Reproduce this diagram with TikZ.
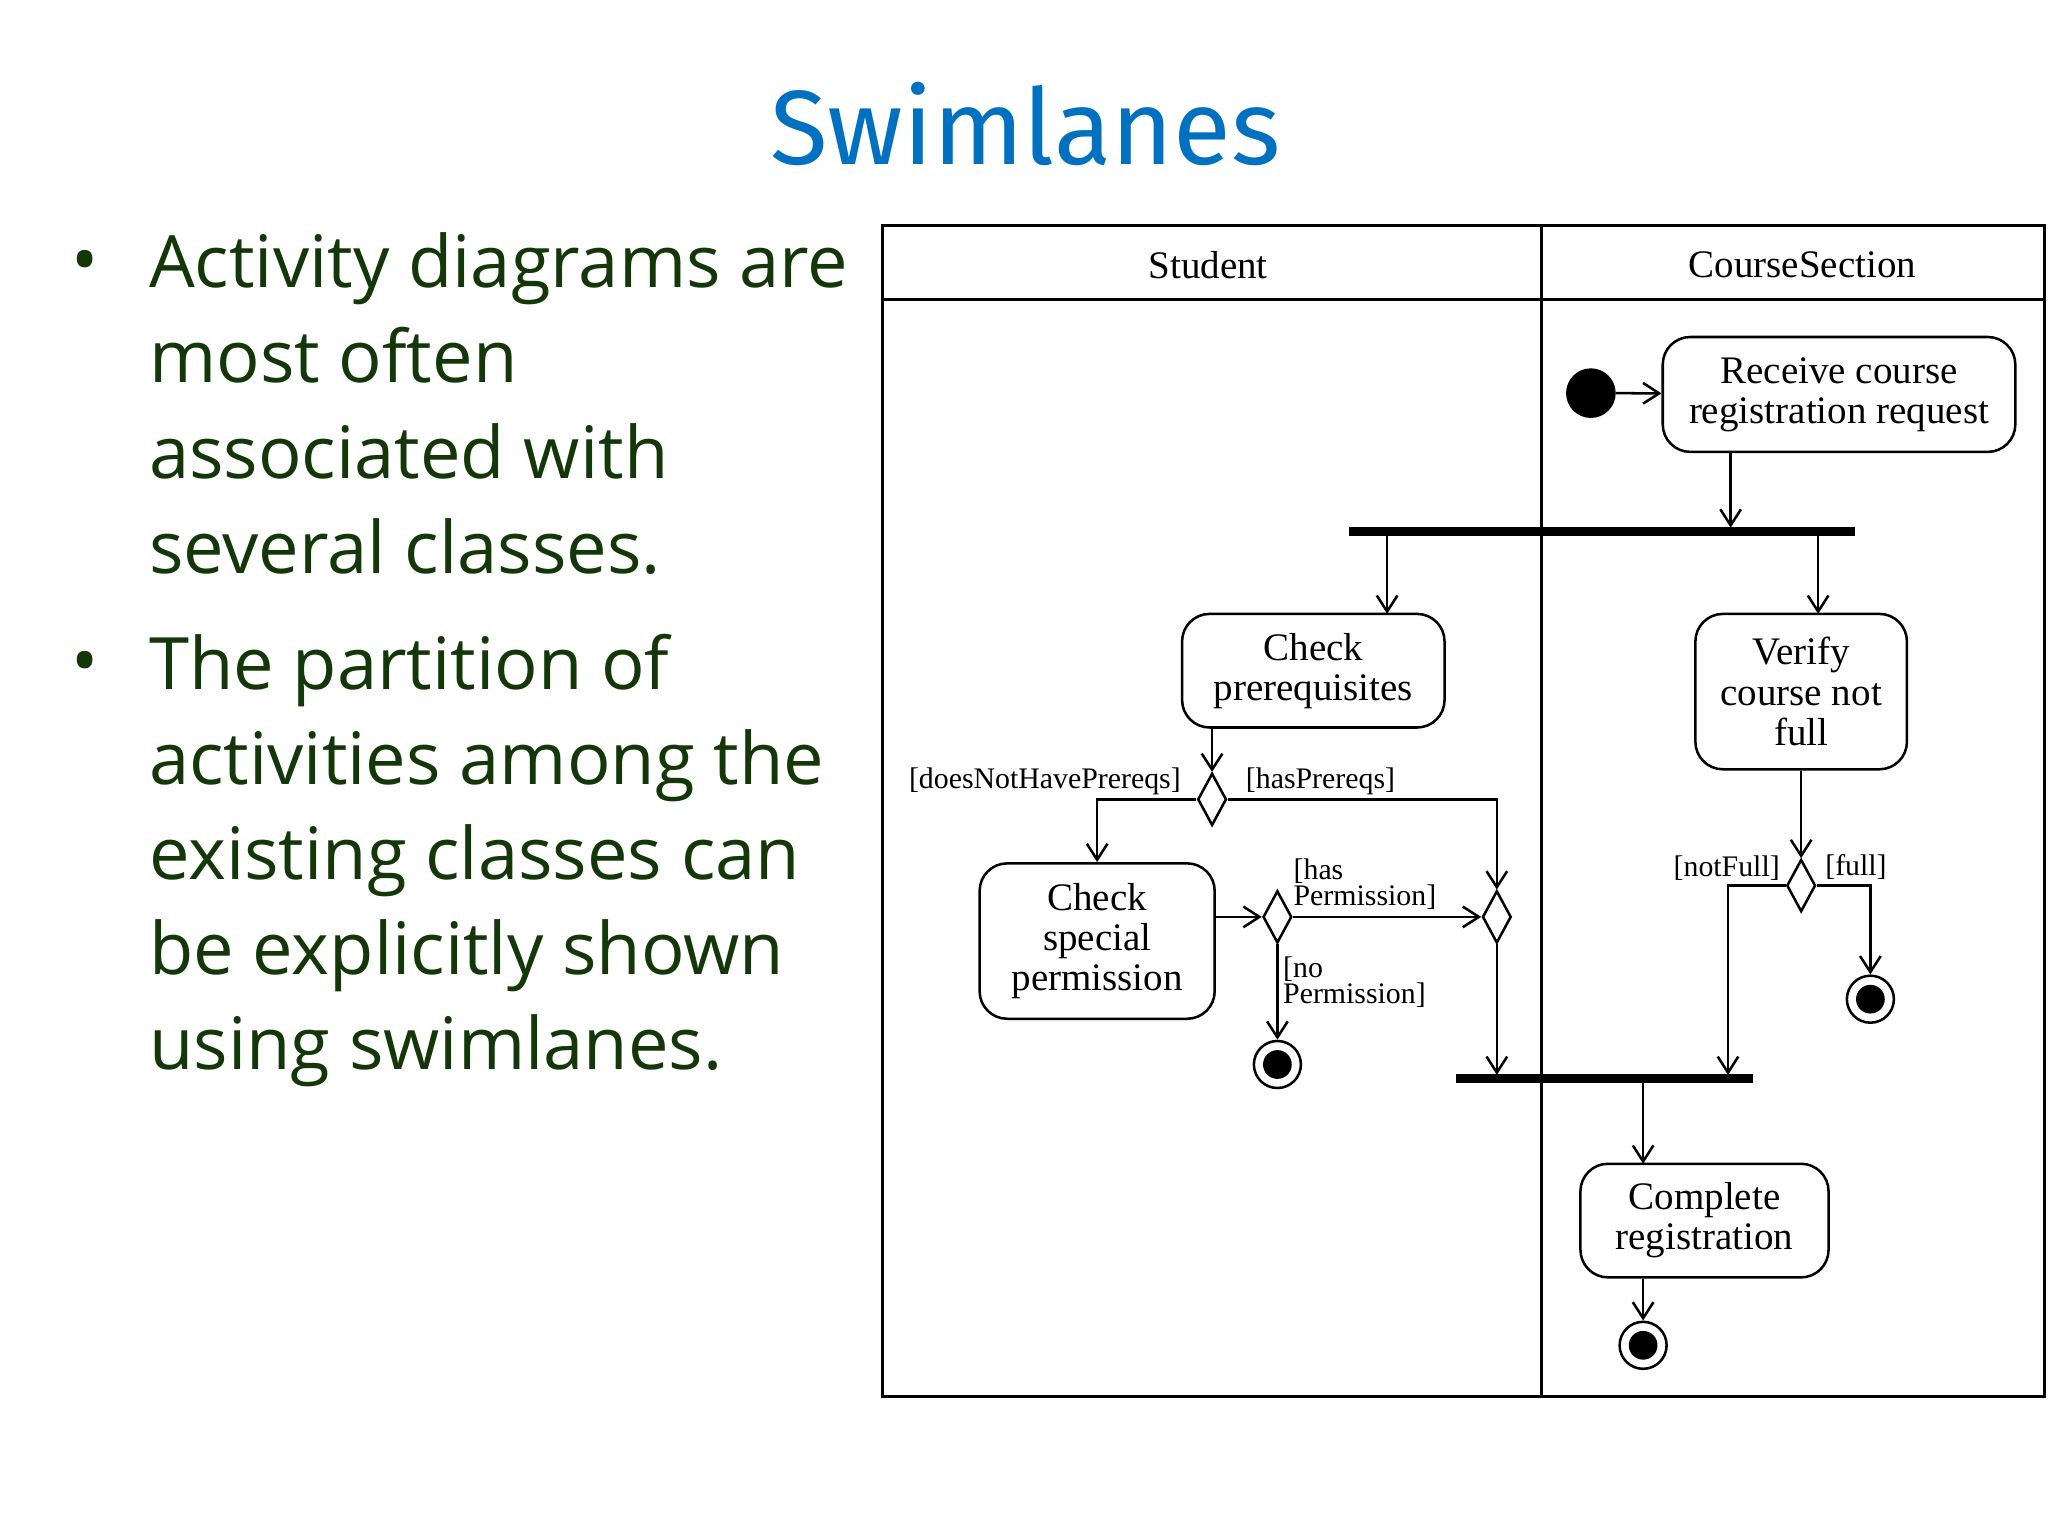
\documentclass[tikz,border=0pt]{standalone}
\usepackage{fontspec}
\setmainfont{Liberation Serif}
\newfontfamily\bul{Open Sans}
\newfontfamily\ttl{Fira Sans}
\usetikzlibrary{arrows.meta,shapes.geometric}
\definecolor{tblue}{RGB}{0,112,192}
\definecolor{tgreen}{RGB}{20,55,10}
\begin{document}
\begin{tikzpicture}[x=0.02cm,y=-0.02cm,
  act/.style={draw,rounded corners=12pt,line width=1.1pt,align=center,font=\fontsize{17}{17.5}\selectfont,inner sep=0pt},
  dec/.style={draw,diamond,line width=1.1pt,minimum width=0.44cm,minimum height=0.8cm,inner sep=0pt,aspect=0.55},
  bar/.style={line width=4pt},
  fin/.style={draw,circle,line width=1.1pt,minimum size=0.72cm,inner sep=0pt,path picture={\fill (path picture bounding box.center) circle (0.22cm);}},
  lab/.style={font=\fontsize{13}{13}\selectfont,align=left,inner sep=1pt},
  ar/.style={line width=1.1pt,-{Straight Barb[length=7pt,width=9pt]}},
  ln/.style={line width=1.1pt}]
\useasboundingbox (0,0) rectangle (1568,1176);
% title & bullets
\node[font=\ttl\fontsize{46}{46}\selectfont,text=tblue] (title) at (785,95) {Swimlanes};
\begin{scope}[font=\bul\fontsize{31.5}{41.5}\selectfont,text=tgreen]
\node[anchor=north west,align=left] (b1) at (108,172) {Activity diagrams are\\most often\\associated with\\several classes.};
\node[anchor=north west,align=left] (b2) at (108,479) {The partition of\\activities among the\\existing classes can\\be explicitly shown\\using swimlanes.};
\node (d1) at (65,205) {•};
\node (d2) at (65,512) {•};
\end{scope}
% frame
\draw[line width=1.3pt] (676,173) rectangle (1565,1069);
\draw[line width=1.3pt] (676,229) -- (1565,229);
\draw[line width=1.3pt] (1180,173) -- (1180,1069);
\node[font=\fontsize{17}{17}\selectfont] (h1) at (925,203) {Student};
\node[font=\fontsize{17}{17}\selectfont] (h2) at (1380,203) {CourseSection};
% nodes
\fill (1218,301) circle (0.38cm);
\coordinate (init) at (1237,301);
\node[act,minimum width=5.4cm,minimum height=1.76cm] (recv) at (1408,302) {Receive course\\registration request};
\node[act,minimum width=4.02cm,minimum height=1.74cm] (cp) at (1005.5,513.5) {Check\\prerequisites};
\node[act,minimum width=3.24cm,minimum height=2.38cm] (vf) at (1379,529.5) {Verify\\course not\\full};
\node[act,minimum width=3.6cm,minimum height=2.38cm] (cs) at (840,720.5) {Check\\special\\permission};
\node[act,minimum width=3.8cm,minimum height=1.74cm] (cr) at (1305,934.5) {Complete\\registration};
\node[dec] (dA) at (928,612) {};
\node[dec] (dB) at (1146,702) {};
\node[dec] (dC) at (978,702) {};
\node[dec] (dD) at (1379,678) {};
\node[fin] (f1) at (978,815) {};
\node[fin] (f2) at (1432,765) {};
\node[fin] (f3) at (1258,1030) {};
\coordinate (fork1) at (1033,407); \coordinate (fork2) at (1420,407);
\coordinate (join1) at (1115,826); \coordinate (join2) at (1342,826);
\draw[bar] (fork1) -- (fork2);
\draw[bar] (join1) -- (join2);
% connectors
\draw[ar] (init) -- (recv);
\draw[ar] (1325,346) -- (1325,404);
\draw[ar] (1062,410) -- (1062,470);
\draw[ar] (1392,410) -- (1392,470);
\draw[ar] (cp.south -| dA) -- (dA.north);
\draw[ar] (dA.west) -| (cs.north);
\draw[ar] (dA.east) -| (dB.north);
\draw[ar] (cs.east |- dC) -- (dC.west);
\draw[ar] (dC.east) -- (dB.west);
\draw[ar] (dC.south) -- (f1.north);
\draw[ar] (dB.south) -- (1146,823);
\draw[ar] (vf.south) -- (dD.north);
\draw[ar] (dD.west) -| (1323,823);
\draw[ar] (dD.east) -| (f2.north);
\draw[ar] (1258,829) -- (1258,891);
\draw[ar] (cr.south -| f3) -- (f3.north);
% labels
\node[lab] (l1) at (800,598) {[doesNotHavePrereqs]};
\node[lab] (l2) at (1011,598) {[hasPrereqs]};
\node[lab,font=\fontsize{13}{11.5}\selectfont] (l3) at (1045,677) {[has\\Permission]};
\node[lab,font=\fontsize{13}{11.5}\selectfont] (l4) at (1037,752) {[no\\Permission]};
\node[lab] (l5) at (1322,665) {[notFull]};
\node[lab] (l6) at (1421,664) {[full]};
\end{tikzpicture}
\end{document}
